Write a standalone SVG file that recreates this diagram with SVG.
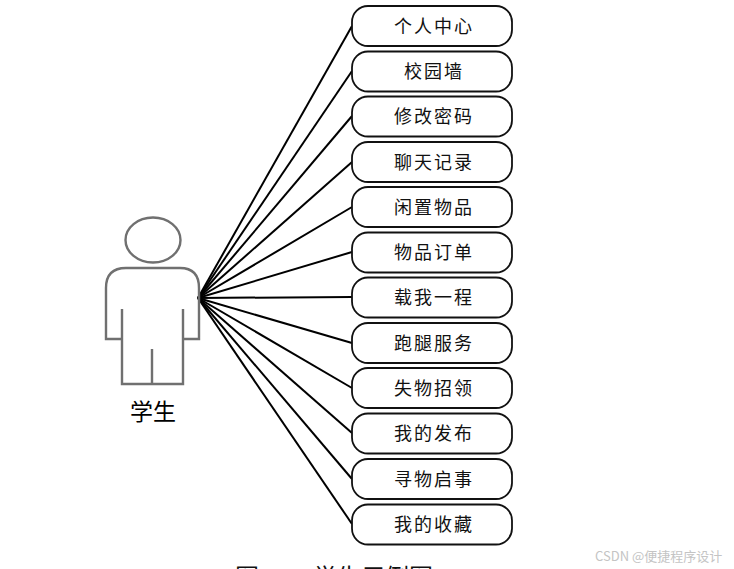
<svg xmlns="http://www.w3.org/2000/svg" width="734" height="569" viewBox="0 0 734 569">
<style>
.n rect{fill:#fff;stroke:#111;stroke-width:1.8}
.n text{font-family:"Liberation Serif","Noto Sans CJK SC",serif;font-size:18px;letter-spacing:2px;text-anchor:middle;fill:#111}
#connectors line{stroke:#000;stroke-width:2}
.a{fill:none;stroke:#6f6f6f;stroke-width:2.4}
</style>
<defs><filter id="soft" x="-10%" y="-10%" width="120%" height="120%"><feGaussianBlur stdDeviation="0.6"/></filter></defs>
<rect width="734" height="569" fill="#fff"/>
<g id="connectors">
<line x1="198" y1="298" x2="352" y2="26"/>
<line x1="198" y1="298" x2="352" y2="71"/>
<line x1="198" y1="298" x2="352" y2="116"/>
<line x1="198" y1="298" x2="352" y2="162"/>
<line x1="198" y1="298" x2="352" y2="207"/>
<line x1="198" y1="298" x2="352" y2="252"/>
<line x1="198" y1="298" x2="352" y2="297"/>
<line x1="198" y1="298" x2="352" y2="343"/>
<line x1="198" y1="298" x2="352" y2="388"/>
<line x1="198" y1="298" x2="352" y2="433"/>
<line x1="198" y1="298" x2="352" y2="479"/>
<line x1="198" y1="298" x2="352" y2="524"/>
</g>
<g id="actor">
<g filter="url(#soft)">
<ellipse class="a" cx="153" cy="240" rx="27.500" ry="22.500"/>
<path class="a" d="M122 339H106V288Q106 268 126 268H180Q199 268 199 288V339H183M122 309V384H183V309M152 349V384"/>
</g>
<text x="153" y="420" font-family="'Noto Sans CJK SC',sans-serif" font-size="23" text-anchor="middle" fill="#000">学生</text>
</g>
<g id="n1" class="n"><rect x="352" y="6" width="160" height="40" rx="16"/><text x="434" y="33">个人中心</text></g>
<g id="n2" class="n"><rect x="352" y="51.500" width="160" height="40" rx="16"/><text x="434" y="78">校园墙</text></g>
<g id="n3" class="n"><rect x="352" y="96.500" width="160" height="40" rx="16"/><text x="434" y="123">修改密码</text></g>
<g id="n4" class="n"><rect x="352" y="142" width="160" height="40" rx="16"/><text x="434" y="169">聊天记录</text></g>
<g id="n5" class="n"><rect x="352" y="187" width="160" height="40" rx="16"/><text x="434" y="214">闲置物品</text></g>
<g id="n6" class="n"><rect x="352" y="232.500" width="160" height="40" rx="16"/><text x="434" y="259">物品订单</text></g>
<g id="n7" class="n"><rect x="352" y="277.500" width="160" height="40" rx="16"/><text x="434" y="304">载我一程</text></g>
<g id="n8" class="n"><rect x="352" y="323" width="160" height="40" rx="16"/><text x="434" y="350">跑腿服务</text></g>
<g id="n9" class="n"><rect x="352" y="368" width="160" height="40" rx="16"/><text x="434" y="395">失物招领</text></g>
<g id="n10" class="n"><rect x="352" y="413.500" width="160" height="40" rx="16"/><text x="434" y="440">我的发布</text></g>
<g id="n11" class="n"><rect x="352" y="459" width="160" height="40" rx="16"/><text x="434" y="486">寻物启事</text></g>
<g id="n12" class="n"><rect x="352" y="504.500" width="160" height="40" rx="16"/><text x="434" y="531">我的收藏</text></g>
<text x="235" y="586" font-family="'Liberation Serif','Noto Sans CJK SC',serif" font-size="24" fill="#111">图</text>
<text x="313" y="586" font-family="'Liberation Serif','Noto Sans CJK SC',serif" font-size="24" fill="#111">学生用例图</text>
<text x="595" y="561" font-family="'Noto Sans CJK SC',sans-serif" font-size="13" fill="#c4c4c4">CSDN @便捷程序设计</text>
</svg>
